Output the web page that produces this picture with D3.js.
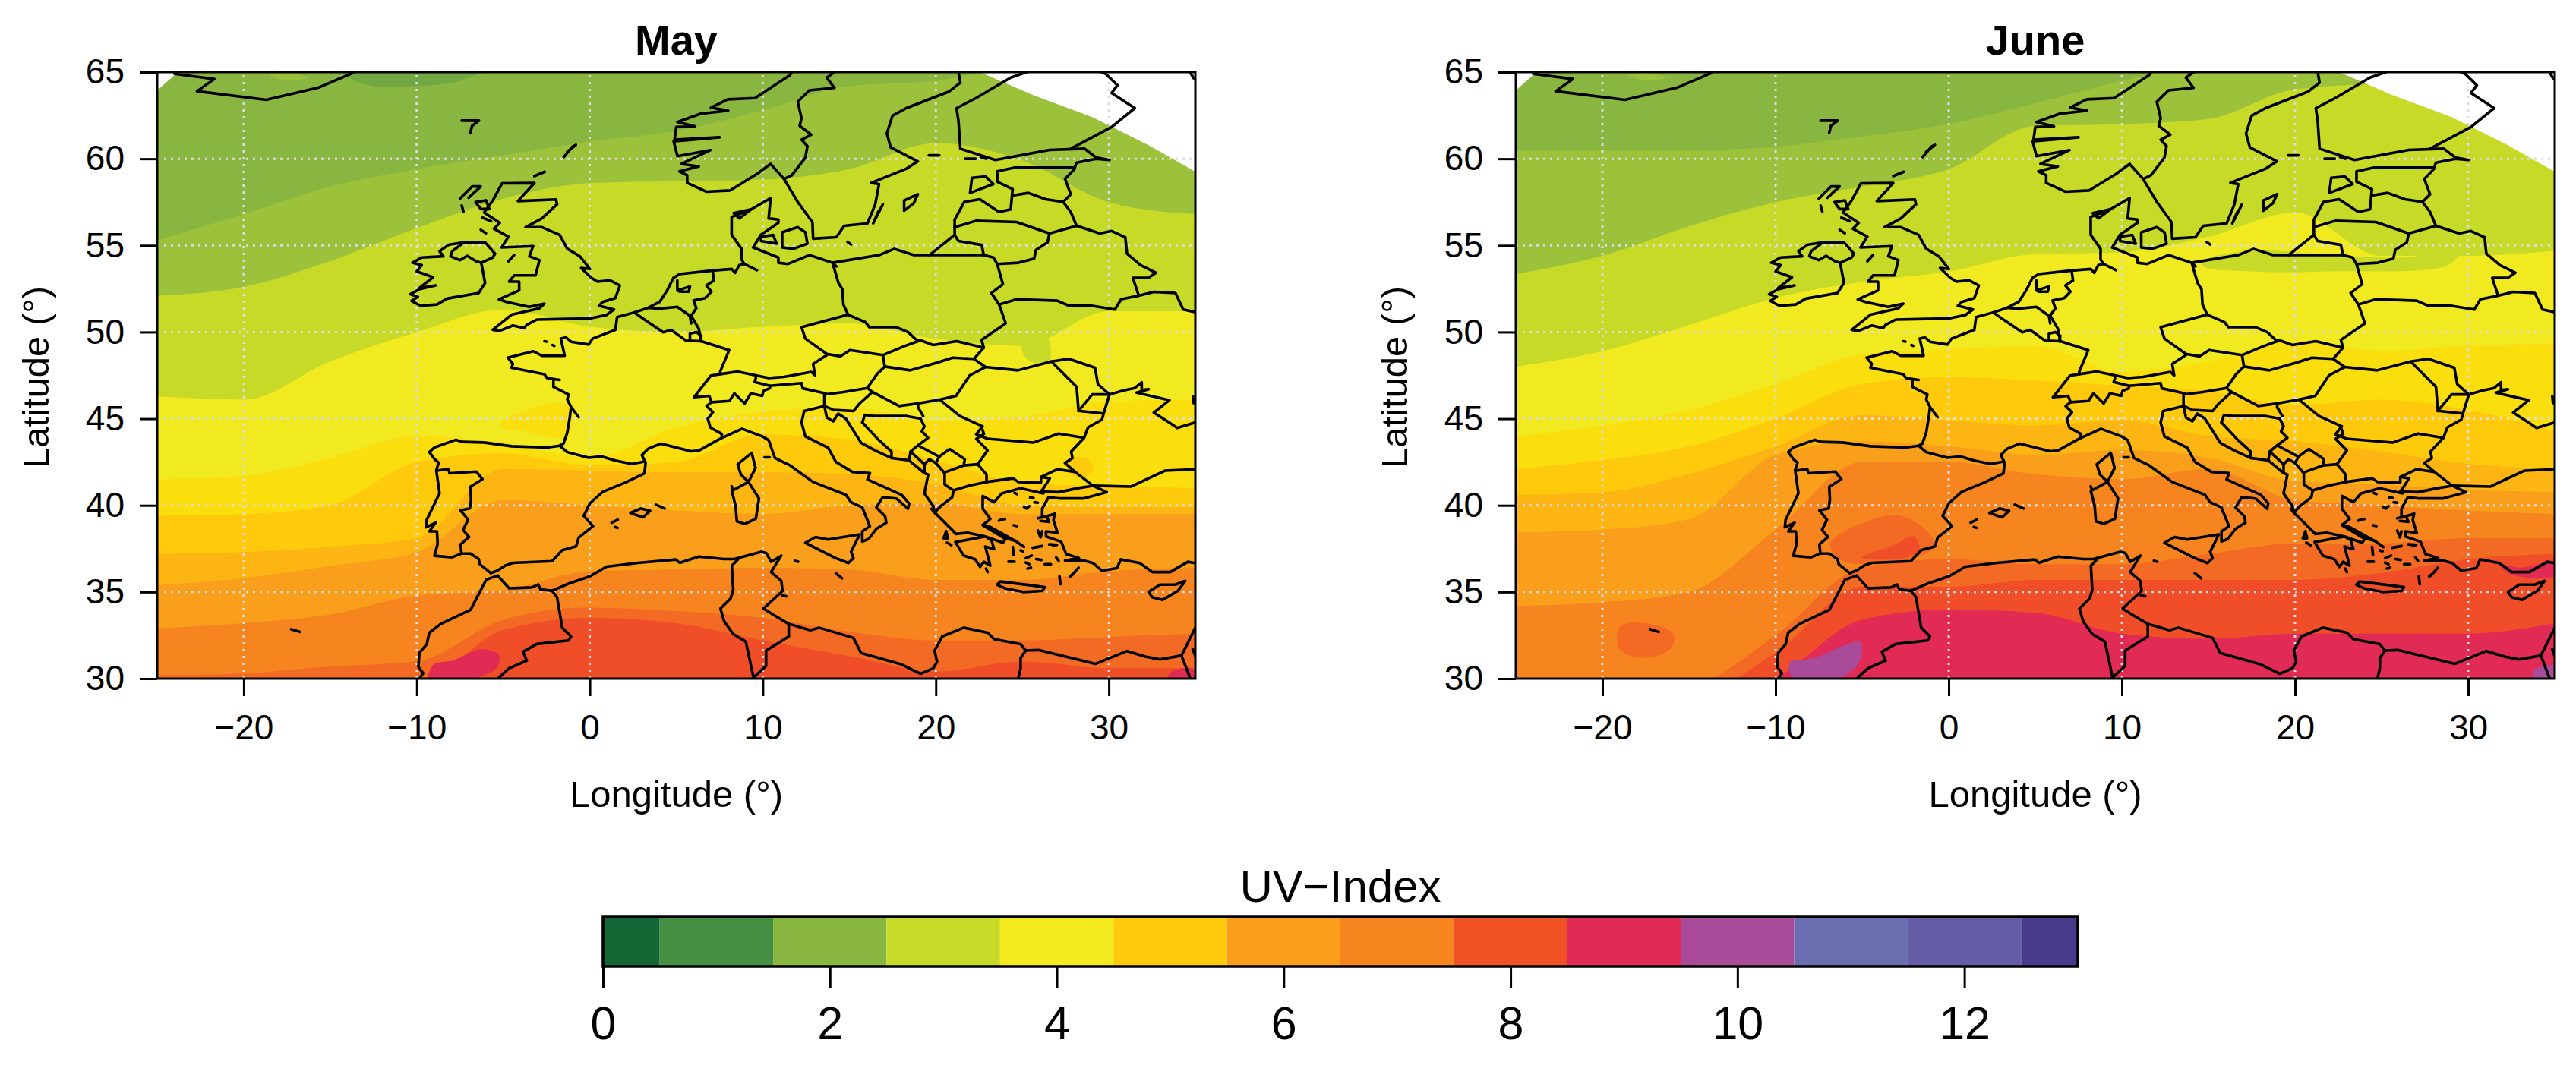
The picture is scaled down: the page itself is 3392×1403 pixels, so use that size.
<!DOCTYPE html>
<html>
<head>
<meta charset="utf-8">
<script src="https://cdn.jsdelivr.net/npm/d3@7"></script>
<style>
body { margin: 0; background: #fff; }
text { font-family: "Liberation Sans", Arial, sans-serif; fill: #000; }
.tick line { stroke: #000; stroke-width: 3; }
.axis text { font-size: 46px; }
.grid { stroke: #dcdcdc; stroke-width: 3; stroke-dasharray: 3 6; fill: none; }
.coast { fill: none; stroke: #000; stroke-width: 3.6; stroke-linejoin: round; stroke-linecap: round; }
</style>
</head>
<body>
<svg id="chart" width="3392" height="1403"></svg>
<script>
// colour bar
var barLevels = [0, 0.5, 1.5, 2.5, 3.5, 4.5, 5.5, 6.5, 7.5, 8.5, 9.5, 10.5, 11.5, 12.5, 13];
var barColors = ["#146635", "#458f45", "#89b640", "#c7da28", "#f4ea1d", "#ffca0b", "#fa9f1b", "#f6851f", "#f15125", "#e12a54", "#aa4b9a", "#6a6eb0", "#655ca6", "#483b8b"];
var barTicks = [0, 2, 4, 6, 8, 10, 12];

// map shades, low to high UV (half steps show up on the maps), last one is the dark green patch
var shades = ["#89b640", "#9cc13a", "#c7da28", "#f2ea20", "#fbde0e", "#ffc90c", "#fdb514", "#fa9f1b", "#f6851f", "#f36a25", "#f04e28", "#e12a54", "#aa4b9a", "#72a843"];

var lonTicks = [-20, -10, 0, 10, 20, 30];
var latTicks = [30, 35, 40, 45, 50, 55, 60, 65];
var isoLons = [-25, -20, -15, -10, -5, 0, 5, 10, 15, 20, 25, 30, 35];

// latitude of each shade boundary at isoLons
var mayIso = [
    [55.3, 56.8, 58.4, 59.4, 60.2, 61, 61.6, 62.8, 64.2, 64.5, 65.5, 66, 66],
    [52.1, 52.6, 54.1, 56, 57.7, 58.6, 58.7, 58.8, 59.4, 60.9, 59.9, 57.5, 56.8],
    [46.3, 46.1, 48.3, 50, 51.3, 50.3, 50, 50.3, 50.5, 49.6, 49.2, 51.2, 51.2],
    [41.5, 41.7, 42.75, 44, 43.6, 42.75, 44.5, 45.4, 45.65, 44.9, 45.1, 46, 46.1],
    [39.4, 39.5, 40, 42.5, 43, 42.3, 42.5, 44.1, 43.8, 42.6, 41.3, 41.1, 41],
    [37.2, 37.3, 37.6, 38.1, 42.1, 42, 41.9, 41.9, 41.8, 41.2, 40, 39.9, 39.9],
    [35.4, 35.8, 36.5, 37.3, 40.3, 40, 39.7, 39.5, 40, 40.1, 39.5, 39.5, 39.5],
    [32.9, 33.2, 33.7, 34.8, 35.1, 36.2, 36.3, 36.4, 36.3, 35.7, 35.7, 36.2, 36.4],
    [30.2, 30.3, 30.7, 31, 33.4, 34.1, 33.9, 33.5, 32.7, 32.2, 32.2, 32.4, 32.6],
    [29, 29, 29, 29.5, 32.8, 33.5, 33.2, 32.2, 31.3, 30.4, 31, 30.6, 30.6]
];
var juneIso = [
    [60.5, 60.5, 60.5, 60.7, 61.3, 62, 63.2, 64.5, 65.5, 66, 66, 66, 66],
    [53.35, 54.4, 56.1, 57.5, 58.4, 59.4, 61.9, 62, 62.3, 64, 64.3, 64, 63],
    [48, 48.9, 50.4, 51.97, 52.9, 53.5, 54.5, 54.6, 55.5, 56.9, 54.4, 54.4, 54.7],
    [44, 44.6, 45.5, 47, 48.7, 49, 49.2, 47.7, 48.3, 49.5, 48.9, 49.2, 49.35],
    [42.1, 42.6, 43.4, 45, 47, 47.4, 47.2, 46.9, 46.6, 45.8, 46.1, 45.5, 44.3],
    [40.6, 40.75, 41.8, 43.4, 45.2, 44.9, 44.6, 44.9, 44, 43.7, 43.1, 42.4, 42.1],
    [38.45, 38.6, 39.2, 42.9, 43.7, 43.4, 42.9, 43.2, 42.75, 41.4, 41.2, 40.9, 40.75],
    [34.2, 34.4, 35, 38.6, 42.5, 42.5, 41.8, 41.5, 42.1, 40.3, 40, 39.7, 39.5],
    [29, 29, 29.5, 32.5, 36.4, 36.9, 36.6, 36.6, 37.2, 37.8, 37.8, 38.1, 38.1],
    [29, 29, 29, 31.5, 35.3, 35.3, 35.7, 35.7, 35.7, 35.7, 36.1, 36.9, 37.2],
    [28, 28, 28, 30, 33.4, 34, 33.8, 32.6, 32.3, 32.6, 32.6, 32.6, 33.2]
];

// isolated patches: [shade index, outline]
var mayPatches = [
    [13, [[-14.5, 65.2], [-13, 64.3], [-10, 64.2], [-7.5, 64.5], [-6, 65.2]]],
    [1, [[-18.5, 64.85], [-17.3, 64.95], [-16.3, 64.7], [-17.4, 64.5]]],
    [4, [[-5.1, 44.8], [-3.9, 45.4], [-2.2, 45.9], [-1.2, 45.7], [-1.2, 44], [-2.2, 43.9], [-3.9, 44.3], [-5, 44.4]]],
    [11, [[-9.05, 30.8], [-7.9, 31.05], [-6.3, 31.7], [-5.25, 31.35], [-5.4, 30.6], [-6.4, 30.1], [-8, 29.8], [-9.3, 29.8]]],
    [11, [[33.5, 30.3], [34.8, 30.6], [35.4, 29.8], [33.5, 29.8]]],
    [5, [[27.6, 42.7], [28.7, 42.7], [29.1, 42.1], [28.5, 41.6], [27.8, 41.8]]],
    [2, [[25.6, 50], [26.5, 49.6], [26.5, 48.2], [25.2, 48.5], [25, 49.5]]]
];
var junePatches = [
    [1, [[-18.5, 64.85], [-17.3, 64.95], [-16.3, 64.7], [-17.4, 64.5]]],
    [1, [[27, 64], [28.5, 64.2], [29.5, 63.5], [28, 63.1], [26.8, 63.4]]],
    [2, [[14.7, 54.1], [17.4, 54.7], [21.9, 54.45], [26.4, 54.3], [29.5, 54.75], [28.9, 53.9], [21.9, 53.5], [17.4, 53.5], [14.7, 53.8]]],
    [9, [[-19, 33], [-17.5, 33.2], [-15.9, 32.6], [-16, 31.8], [-17.5, 31.2], [-19, 31.7]]],
    [9, [[-6.85, 37.8], [-4.66, 39.1], [-2.75, 39.4], [-1.14, 38.4], [-0.85, 37.6], [-2.2, 36.9], [-5.1, 36.6], [-6.3, 36.9]]],
    [10, [[-5, 37], [-3.2, 37.7], [-2, 38.2], [-1.7, 37.3], [-3, 36.9]]],
    [11, [[31.8, 36.6], [33, 36.4], [35.4, 36.8], [35.4, 36], [32.5, 36]]],
    [12, [[-9.2, 30.9], [-7.7, 31.2], [-6.1, 31.9], [-5.1, 32.1], [-5.2, 30.9], [-6.6, 29.9], [-8.9, 29.9]]],
    [12, [[33.8, 29.9], [33.8, 30.5], [35.3, 30.7], [35.3, 29.9]]]
];

// area outside the satellite view, left white
var swathGaps = [
    [[22.54, 65], [25.68, 63.65], [29.04, 62.41], [32.4, 60.73], [35, 59.25], [35.5, 59], [35.5, 65.5], [22.54, 65.5]],
    [[-25.5, 63.75], [-25, 63.95], [-23.8, 65], [-23.8, 65.5], [-25.5, 65.5]]
];

// coastlines and borders, lon/lat
var coastLines = [
    // Iceland
    [[-24, 64.9], [-21.7, 64.6], [-22.7, 63.9], [-18.7, 63.4], [-15.7, 64.1], [-13.7, 64.95]],
    // Ireland
    [[-8.46, 54.37], [-9.71, 54.3], [-10.25, 54], [-9.71, 53.86], [-10, 53.5], [-9.05, 53.16], [-9.85, 52.54], [-8.9, 52.69], [-9.85, 52.47], [-10.37, 52.18], [-9.93, 52.03], [-10.3, 51.8], [-9.78, 51.52], [-8.83, 51.59], [-8.25, 51.93], [-6.42, 52.25], [-6.05, 52.84], [-6.27, 54], [-5.61, 54.3], [-5.47, 54.52], [-6.05, 55.18], [-7.3, 55.18], [-8.17, 55.03], [-8.68, 54.66], [-8.46, 54.37]],
    [[-7.37, 55.1], [-7.95, 54.66], [-8.05, 54.37], [-7.51, 54.15], [-7.08, 54.4], [-6.56, 54.08], [-6.27, 54]],
    // Great Britain
    [[-5.07, 58.58], [-3.2, 58.6], [-4.15, 57.56], [-1.95, 57.65], [-1.89, 57.37], [-2.76, 56.56], [-3.71, 56.05], [-2.76, 56.05], [-1.74, 55.61], [-1.3, 54.81], [-0.57, 54.37], [0.01, 53.64], [-0.5, 53.7], [0.09, 53.13], [0.45, 52.91], [1.18, 52.98], [1.74, 52.69], [1.48, 51.96], [0.75, 51.74], [0.53, 51.52], [1.4, 51.3], [0.96, 50.98], [0.01, 50.79], [-1.3, 50.76], [-3.06, 50.72], [-3.64, 50.42], [-3.79, 50.23], [-4.44, 50.38], [-5.24, 50.06], [-5.6, 50.13], [-4.52, 51], [-2.91, 51.37], [-2.62, 51.64], [-3.5, 51.45], [-4.81, 51.74], [-5.25, 51.89], [-4.08, 52.4], [-4.08, 52.91], [-4.66, 52.91], [-4.37, 53.27], [-3.13, 53.27], [-2.91, 54.15], [-3.49, 54.37], [-3.27, 54.96], [-5.1, 54.88], [-4.7, 55.5], [-5.53, 55.96], [-5.2, 56.3], [-6.1, 56.9], [-5.6, 57.6], [-5.07, 58.58]],
    [[-7.5, 57.7], [-6.8, 58.4], [-6.3, 58.4], [-7, 57.75]],
    [[-6.6, 57.5], [-6, 57.6], [-5.8, 57.1], [-6.3, 57.1], [-6.6, 57.5]],
    [[-6.2, 56.6], [-5.7, 56.4]], [[-6.3, 55.9], [-6, 55.7]], [[-7.4, 57.3], [-7.3, 56.95]],
    [[-3.2, 59], [-2.6, 59.25]], [[-1.5, 60.1], [-1, 60.7], [-0.8, 60.8], [-1.3, 60.4]],
    [[-7.4, 62.2], [-6.4, 62.2], [-6.8, 61.9], [-6.9, 61.5]],
    [[-4.7, 54.08], [-4.37, 54.44]], [[-2.62, 49.47], [-2.5, 49.45]], [[-2.15, 49.25], [-2.05, 49.2]],
    [[-17.25, 32.85], [-16.75, 32.7]],
    // Iberia and France, Atlantic side
    [[-5.72, 36.09], [-6.35, 36.6], [-6.42, 36.9], [-6.89, 37.22], [-7.41, 37.22], [-7.95, 37], [-8.98, 37.09], [-8.79, 37.77], [-8.83, 38.5], [-9.27, 38.5], [-8.9, 39], [-9.46, 38.73], [-9.42, 39.17], [-8.68, 40.7], [-8.87, 42.02], [-8.73, 42.46], [-8.98, 42.68], [-9.27, 43.07], [-8.98, 43.34], [-7.73, 43.78], [-7.37, 43.66], [-6.13, 43.63], [-4.52, 43.41], [-2.47, 43.34], [-1.74, 43.44], [-1.52, 43.56], [-1.3, 44.2], [-1.15, 45.1], [-1.08, 45.67], [-0.64, 45.09], [-1.08, 45.67], [-1.3, 46.11], [-1.23, 46.4], [-2.1, 46.84], [-2.1, 47.28], [-1.74, 47.24], [-2.47, 47.35], [-2.62, 47.57], [-4.52, 47.94], [-4.44, 48.16], [-4.74, 48.52], [-3.27, 48.89], [-2.76, 48.63], [-1.45, 48.63], [-1.67, 49.62], [-1.37, 49.69], [-1.08, 49.44], [-0.06, 49.28], [0.16, 49.62], [1.48, 50.13], [1.58, 50.86], [2.57, 51.13], [3.38, 51.4], [4.04, 51.74], [4.47, 52.4], [4.84, 53.13], [5.2, 53.35], [7.1, 53.55], [8.2, 53.64], [8.4, 53.42], [8.64, 53.86], [8.93, 53.93], [9.66, 53.57], [8.93, 53.93], [8.77, 54.2], [8.77, 54.81], [8.2, 55.61], [8.2, 56.64], [9.33, 57.08], [10.45, 57.73], [10.34, 56.56], [10.9, 56.49], [10.9, 56.3], [9.89, 55.61], [9.44, 54.88], [10.9, 54.3], [10.9, 54], [11.46, 53.93], [12.69, 54.44], [14.03, 54], [14.25, 53.79], [14.03, 54], [16.72, 54.44], [17.6, 54.8], [18.73, 54.44], [19.63, 54.44], [21.09, 55.61], [21.09, 56.49], [21.65, 57.51], [22.54, 57.66], [23.66, 56.93], [24.33, 57.08], [24.44, 58.25], [23.55, 58.68], [23.55, 59.27], [24.56, 59.49], [28.03, 59.49], [28.14, 59.78], [29.26, 60], [30.04, 59.93], [29.26, 60.07], [28.6, 60.58], [26.57, 60.51], [23.44, 59.93], [21.42, 60.58], [21.31, 62.19], [21.2, 62.92], [22.32, 63.5], [24.33, 64.68], [25.23, 65]],
    // Scandinavia
    [[21.31, 65], [21.42, 64.39], [20.75, 63.87], [18.29, 62.92], [17.5, 62.49], [17.17, 61.46], [17.39, 60.66], [18.96, 59.85], [18.29, 59.42], [16.27, 58.61], [16.72, 58.54], [16.5, 57.37], [16.05, 56.27], [14.7, 56.13], [14.25, 55.47], [12.91, 55.39], [12.87, 56.34], [12.02, 57.51], [11.23, 58.83], [10.45, 59.7], [9.66, 59.12], [8.1, 58.17], [6.75, 58.1], [5.63, 58.61], [5.63, 59.05], [5.18, 59.27], [6.3, 59.56], [5.3, 59.7], [6.98, 60.5], [5.07, 60.15], [4.85, 61], [7.5, 61.24], [4.9, 61.1], [5, 61.83], [6.08, 61.87], [5.07, 62.12], [6.42, 62.6], [8, 62.78], [7, 62.95], [7.98, 63.43], [9.55, 63.5], [11.57, 64.82], [11.68, 65]],
    [[11.23, 58.83], [11.68, 59.05], [12.46, 60.07], [12.58, 60.73], [12.24, 61.1], [12.8, 61.39], [12.13, 61.9], [12.24, 62.34], [12.02, 63.29], [12.69, 63.95], [14.14, 64.09], [13.7, 64.68], [14.14, 65]],
    [[27.8, 60.58], [30.16, 61.83], [31.5, 62.92], [30.16, 63.8], [30.5, 64.24], [29.82, 64.9], [29.6, 65]],
    [[34.7, 65], [34.9, 64.65], [35, 64.6]],
    // Danish islands, Baltic islands
    [[11.12, 55.76], [12.02, 56.05], [12.46, 55.76], [12.58, 55.1], [11.79, 54.81], [11.12, 54.88], [11.12, 55.76]],
    [[9.9, 55.5], [10.6, 55.6], [10.8, 55.1], [9.9, 55.25], [9.9, 55.5]],
    [[8.32, 56.86], [9.33, 57.08], [8.65, 56.56], [8.32, 56.86]],
    [[18.17, 57.59], [18.96, 57.95], [18.73, 57.44], [18.17, 57], [18.17, 57.59]],
    [[16.94, 57.37], [16.38, 56.27], [16.7, 57]],
    [[22.09, 58.9], [22.88, 58.97], [23.33, 58.54], [21.98, 58.03], [22.09, 58.9]],
    [[14.9, 55.2], [15.1, 55.05]], [[19.6, 60.2], [20.2, 60.2]], [[21.7, 60], [22.3, 60]], [[22.6, 60.1], [22.9, 60]],
    // Low Countries, Germany, Alps
    [[5.06, 52.98], [5.06, 52.4], [5.79, 52.63], [5.72, 52.33], [5.2, 52.33], [5.06, 52.4]],
    [[3.38, 51.4], [4, 51.35], [5.06, 51.45], [5.79, 50.94], [5.86, 50.5]],
    [[7.1, 53.55], [7.18, 52.98], [6.74, 52.69], [7.03, 52.33], [6.67, 51.96], [6, 51.82], [6.16, 51.37], [5.86, 50.94], [6.3, 50.2], [6.45, 49.47]],
    [[2.57, 51.13], [3.16, 50.72], [4.25, 49.99], [4.7, 50.13], [5.57, 49.5], [6.45, 49.47]],
    [[5.79, 49.5], [5.79, 49.91], [6.16, 50], [6.45, 49.78], [6.38, 49.47]],
    [[6.45, 49.47], [8.06, 48.96], [7.54, 47.72], [7.54, 47.57], [8.54, 47.72], [10.34, 47.35], [11.23, 47.41], [12.8, 47.7], [13.02, 47.5], [12.91, 48.16], [13.7, 48.67]],
    [[7.54, 47.57], [7.01, 47.49], [6.02, 46.24], [6.9, 46.32], [7.04, 45.95], [8.07, 46.02], [8.36, 46.46], [8.95, 45.88], [9.31, 46.46], [9.97, 46.32], [10.04, 46.61], [10.41, 46.75], [10.41, 46.9], [9.53, 47.12], [9.6, 47.34]],
    [[7.04, 45.95], [6.75, 45.73], [7.12, 45.37], [6.82, 45], [6.97, 44.49], [7.63, 44.12], [7.63, 43.9]],
    [[10.41, 46.9], [12.24, 47.05], [12.31, 46.75], [13.63, 46.46]],
    // Mediterranean north shore
    [[-5.72, 36.09], [-5.32, 36.24], [-4.88, 36.53], [-4.44, 36.68], [-2.18, 36.78], [-1.59, 37.41], [-0.79, 37.63], [-0.64, 38.14], [0.19, 38.8], [-0.35, 39.39], [0.01, 40.12], [0.75, 40.78], [2.06, 41.32], [3.16, 41.84], [3.23, 42.46], [3.01, 42.9], [3.38, 43.27], [4.11, 43.56], [5.86, 43.12], [6.3, 43.16], [7.54, 43.85], [8.8, 44.42], [9.97, 43.98], [10.34, 43.76], [10.7, 42.73], [11.58, 42.3], [12.9, 41.35], [13.85, 40.98], [14.8, 40.61], [15.1, 40.18], [15.75, 39.88], [16.19, 38.79], [15.75, 38.5], [15.75, 37.91], [16.12, 38.06], [16.56, 38.64], [17.14, 39], [17.07, 39.37], [16.56, 39.88], [16.93, 40.47], [17.73, 40.39], [18.39, 39.81], [18.46, 40.1], [18.02, 40.61], [16.05, 41.49], [16.19, 41.86], [15.17, 41.93], [14.22, 42.51], [13.78, 43.32], [12.46, 43.98], [12.24, 44.78], [12.39, 45.44], [13.56, 45.73], [13.7, 45.07], [14.07, 44.85], [14.36, 45.29], [14.8, 45], [15.68, 43.61], [16.49, 43.17], [17.44, 42.73], [18.46, 42.59], [19.34, 41.86], [19.56, 41.78], [19.34, 40.69], [19.85, 39.96], [19.93, 39.59], [21.17, 38.35], [21.83, 38.42], [22.86, 38.2], [21.13, 37.88], [21.61, 37.1], [22.27, 36.89], [22.56, 36.45], [22.78, 36.74], [23.15, 36.52], [22.86, 37.62], [23.37, 37.47], [23.22, 37.98], [22.86, 38.2], [23.88, 37.84], [24.03, 38.06], [22.71, 38.86], [23.15, 39.22], [22.71, 39.81], [22.71, 40.54], [23.37, 40.18], [23.81, 40.69], [24.9, 40.98], [26.22, 40.69], [26.08, 40.8], [27.1, 40.76], [28.27, 41], [29.08, 41.13], [29.88, 40.76], [28.57, 40.4], [27.1, 40.4], [26.52, 40.47], [26.15, 39.81], [26.15, 39.3], [26.88, 39.52], [26.8, 39.15], [27.03, 38.42], [26.37, 38.5], [26.37, 38.2], [27.25, 37.9], [27.54, 37.18], [28.27, 36.96], [27.47, 36.81], [28.56, 36.81], [29.08, 36.67], [29.6, 36.23], [30.47, 36.37], [30.69, 36.88], [31.79, 36.67], [32.52, 36.15], [33.54, 36.15], [34.57, 36.74], [35, 36.67]],
    [[29.08, 41.13], [31.27, 41.08], [33.24, 42], [35, 42.08]],
    [[29.08, 41.13], [28.05, 41.93], [27.46, 42.44], [27.9, 42.73], [27.82, 43.1], [28.57, 43.9], [28.8, 44.5], [29.6, 44.94], [29.7, 45.3], [28.25, 45.45]],
    // Black Sea north, Crimea
    [[29.7, 45.3], [30.04, 46.4], [30.82, 46.62], [31.5, 46.77], [31.9, 47.1], [31.9, 46.65], [32.3, 46.7], [31.6, 46.5], [33.5, 46.07], [32.6, 45.35], [33.5, 44.77], [33.95, 44.47], [34.97, 44.77]],
    [[34.86, 46.3], [34.9, 45.9], [35, 46]],
    // Iberian borders
    [[-1.74, 43.44], [-1.3, 43.07], [-0.06, 42.75], [0.67, 42.82], [1.48, 42.58], [2.43, 42.39], [3.16, 42.53]],
    [[-8.83, 42], [-8.17, 42.09], [-8.1, 41.85], [-6.56, 41.95], [-6.2, 41.51], [-6.9, 41.07], [-6.86, 40.34], [-6.93, 39.82], [-7.47, 39.71], [-7.03, 39.17], [-7.32, 38.58], [-6.97, 38.17], [-7.47, 37.75], [-7.41, 37.22]],
    // Central and eastern Europe borders
    [[14.03, 54], [14.37, 52.84], [14.6, 52.47], [14.66, 51.59], [14.93, 51], [12.24, 50.28], [12.46, 49.62], [13.7, 48.74], [14.48, 48.6], [15.04, 48.96], [16.94, 48.67], [17.05, 48.01], [16.6, 47.57], [16.04, 46.77], [14.66, 46.54], [13.56, 46.39], [13.56, 45.73]],
    [[14.93, 51], [15.93, 50.57], [16.16, 50.28], [17.73, 50.28], [18.4, 49.99], [18.96, 49.47], [19.04, 49.55], [19.85, 49.25], [21.2, 49.47], [22.77, 49.1], [22.2, 48.45], [20.97, 48.52], [20.08, 48.23], [18.51, 47.79], [17.05, 48.01]],
    [[18.96, 49.47], [18.17, 49.18], [16.94, 48.67]],
    [[19.63, 54.44], [22.77, 54.44], [23.33, 54.3], [23.55, 53.93], [23.88, 52.76], [23.21, 52.25], [23.66, 51.59], [24.04, 50.5], [22.65, 49.55], [22.77, 49.1]],
    [[21.09, 55.61], [21.31, 55.25], [22.65, 55.03], [22.77, 54.44]],
    [[21.09, 56.05], [22.32, 56.42], [24.67, 56.35], [26.57, 55.69], [28.14, 56.13], [27.8, 56.93], [27.36, 57.51], [26.35, 57.66], [25.35, 58.03], [24.44, 57.88]],
    [[28.03, 59.42], [27.47, 58.83], [27.8, 57.95], [27.36, 57.51]],
    [[26.57, 55.69], [26.46, 55.18], [25.79, 54.74], [25.68, 54.23], [24.78, 54], [23.55, 53.93]],
    [[28.14, 56.13], [29.48, 55.69], [30.16, 55.83], [30.95, 55.47], [31.05, 54.52], [31.84, 53.86], [32.73, 53.42], [32.29, 53.13], [31.39, 53.13], [31.73, 52.1], [32.6, 52.32], [33.85, 52.25], [34.3, 51.3], [35, 51.15]],
    [[23.66, 51.59], [24.67, 51.89], [27.02, 51.81], [27.7, 51.52], [29, 51.52], [30.35, 51.3], [30.71, 51.89], [31.73, 52.1]],
    [[22.2, 48.45], [22.87, 47.98], [24.74, 47.79], [26.68, 48.3], [27.69, 48.45], [29.2, 47.94], [29.37, 46.99], [30.04, 46.4], [29.04, 46.4], [28.25, 45.45]],
    [[26.68, 48.3], [28.14, 46.84], [28.25, 45.45]],
    [[22.87, 47.98], [21.96, 47.5], [21.17, 46.32], [20.22, 46.1], [21.39, 45.15], [22.7, 44.56], [22.34, 44.1], [23, 43.84], [25.63, 43.62], [27.1, 44.14], [28.57, 43.9]],
    [[16.04, 46.77], [16.34, 46.54], [17.88, 45.73], [18.97, 45.88], [20.22, 46.1]],
    [[13.56, 45.73], [14.07, 45.51], [15.24, 45.44], [15.6, 45.88], [16.34, 46.54]],
    [[15.75, 44.78], [15.9, 45.22], [16.41, 45.15], [18.32, 45.15], [19.12, 45], [19.34, 44.56], [19.19, 44.27], [19.56, 43.9], [18.97, 43.46], [18.54, 43.1], [18.46, 42.59]],
    [[15.75, 44.78], [16.71, 43.76], [17.44, 43.1], [17.44, 42.73]],
    [[18.97, 45.88], [18.97, 45.66], [19.27, 45.15]],
    [[18.54, 43.1], [19.34, 42.37], [19.63, 42.66], [20, 42.44], [20.51, 41.86], [20.51, 41.2], [21.02, 40.86], [20.95, 40.47], [20.29, 39.96], [19.93, 39.59]],
    [[19.34, 42.37], [19.34, 41.86]],
    [[18.97, 43.46], [20.2, 42.81], [20, 42.44]],
    [[20.2, 42.81], [20.8, 43.25], [21.68, 42.66], [21.61, 42.3], [20.59, 41.93]],
    [[21.61, 42.3], [22.42, 42.37], [22.93, 41.78], [22.93, 41.35]],
    [[22.42, 42.37], [22.99, 43.17], [22.34, 43.83], [22.78, 44.12], [22.63, 44.56]],
    [[21.02, 40.86], [21.98, 41.15], [22.93, 41.35], [24.47, 41.56], [24.76, 41.35], [26.08, 41.3], [26.08, 41.64], [27.03, 42.08], [28.05, 41.93]],
    [[26.08, 41.64], [26.59, 41.56], [26.22, 40.98], [26.08, 40.8]],
    // Med islands
    [[9.36, 43.03], [9.58, 42.15], [9.17, 41.35], [8.73, 41.78], [8.55, 42.37], [9.36, 43.03]],
    [[9.17, 41.35], [8.21, 40.83], [8.43, 39.96], [8.5, 39.08], [8.96, 38.93], [9.6, 39.23], [9.78, 40.4], [9.17, 41.35]],
    [[12.46, 37.84], [13.05, 38.17], [13.78, 38.03], [15.6, 38.32], [15.1, 37.32], [15.24, 36.96], [14.95, 36.67], [14.2, 36.96], [12.46, 37.84]],
    [[2.35, 39.56], [2.94, 39.82], [3.49, 39.68], [3.08, 39.31], [2.35, 39.56]],
    [[3.82, 40.04], [4.33, 39.82]], [[1.26, 39], [1.62, 39.17]], [[1.45, 38.75], [1.6, 38.7]],
    [[10.1, 42.77], [10.4, 42.77]], [[8.2, 41.1], [8.25, 40.95]], [[14.22, 36.08], [14.58, 35.79]], [[11.85, 36.8], [12.05, 36.75]], [[11.1, 34.8], [11.35, 34.75]],
    [[32.3, 35], [32.95, 35.42], [33.84, 35.42], [34.42, 35.64], [33.99, 35.06], [33.11, 34.55], [32.52, 34.69], [32.3, 35]],
    [[23.54, 35.42], [23.73, 35.6], [25.78, 35.35], [26.3, 35.28], [26.15, 35.06], [25.05, 35], [24.03, 35.2], [23.54, 35.42]],
    // Aegean and Ionian islands
    [[22.71, 38.86], [23.15, 38.75], [24.6, 37.95], [24.05, 38.1], [22.71, 38.86]],
    [[24.55, 40.72], [24.7, 40.65]], [[25.45, 40.45], [25.65, 40.42]], [[25.7, 40.18], [25.9, 40.15]], [[25.1, 39.9], [25.25, 39.82], [25.4, 39.95]],
    [[23.65, 39.12], [23.85, 39.2], [24, 39.2]], [[24.5, 38.85], [24.7, 38.8]],
    [[20.6, 38.5], [20.45, 38.1], [20.7, 38.1], [20.6, 38.5]], [[20.65, 37.85], [20.9, 37.7]], [[22.9, 36.35], [23, 36.15]], [[19.75, 39.8], [20.05, 39.45]],
    [[25.9, 39.25], [26.4, 39.38], [26.55, 39.05], [26.05, 39.1]], [[25.9, 38.55], [26.05, 38.15], [26.15, 38.5]], [[26.55, 37.75], [27, 37.72], [26.8, 37.65]], [[25.6, 37.55], [26.15, 37.65]],
    [[24.6, 37.95], [25.1, 37.6]], [[24.45, 37.6], [24.5, 37.15]], [[24.9, 37.4], [25.05, 37.35]], [[25.2, 36.95], [25.55, 37.1]], [[24.2, 36.75], [24.55, 36.75]], [[25.2, 36.7], [25.4, 36.6]], [[25.5, 36.4], [25.3, 36.35]], [[25.8, 36.9], [26.1, 36.85]], [[26.3, 36.6], [26.65, 36.6]], [[26.95, 37], [27.1, 36.8]],
    [[28.05, 36.15], [27.75, 35.9], [27.85, 35.95], [28.25, 36.4]], [[27.15, 35.9], [27.2, 35.45]]
];

// North Africa kept apart, it is long
var africaLines = [
    [[-5.32, 35.94], [-5.98, 35.72], [-6.89, 33.97], [-8.61, 33.16], [-9.27, 32.65], [-9.42, 31.99], [-9.85, 31.48], [-9.9, 30.67], [-9.63, 30.31], [-9.85, 30]],
    [[-5.32, 35.94], [-4.66, 35.21], [-3.35, 35.26], [-2.98, 35.43], [-2.84, 35.14], [-2.18, 35.07], [-1.15, 35.51], [0.01, 35.9], [0.97, 36.46], [2.79, 36.68], [4.98, 36.87], [5.2, 36.68], [6.3, 37.04], [7.76, 36.9], [8.35, 36.9], [9.9, 37.32], [10.2, 37.25], [10.48, 36.74], [11.07, 37.1], [10.48, 36.15], [11.07, 35.64], [11.14, 35.06], [10.04, 34.04], [10.63, 33.67], [11.5, 33.16], [12.75, 32.79], [13.26, 32.94], [15.24, 32.35], [15.68, 31.48], [18.02, 30.82], [19.12, 30.28], [19.85, 30.6], [20.07, 30.96], [19.93, 31.62], [20.37, 32.43], [21.61, 32.94], [23, 32.65], [23.37, 32.28], [24.9, 31.99], [25.2, 31.62], [25.93, 31.65], [29.22, 30.85], [30.03, 31.18], [31.05, 31.59], [32.15, 31.26], [32.95, 31.11], [34.2, 31.33], [34.78, 32.5], [35, 32.94]],
    [[-2.18, 35.07], [-1.89, 34.7], [-1.59, 32.94], [-1.08, 32.43], [-1.23, 32.2], [-3.06, 32], [-3.86, 31.55], [-3.64, 31.04], [-4.66, 30.6], [-5.32, 30]],
    [[8.58, 36.89], [8.21, 36.52], [8.29, 35.13], [8.14, 34.62], [7.55, 34.04], [7.77, 33.3], [8.29, 32.57], [9.02, 32.13], [9.46, 30.09], [9.4, 30]],
    [[11.5, 33.16], [11.5, 32.43], [10.19, 31.62], [10.19, 30.74], [9.4, 30]],
    [[25.2, 31.62], [24.9, 31.18], [24.9, 30.6], [24.76, 30]],
    [[34.2, 31.33], [34.71, 30]],
    [[34.85, 31.7], [35, 31.3]]
];

var svg = d3.select("#chart");
var panelY = [894, 95];

function drawMap(title, xRange, iso, patches) {
    var x = d3.scaleLinear().domain([-25, 35]).range(xRange);
    var y = d3.scaleLinear().domain([30, 65]).range(panelY);
    var clipId = "clip-" + title;

    svg.append("clipPath").attr("id", clipId)
        .append("rect")
        .attr("x", xRange[0]).attr("y", panelY[1])
        .attr("width", xRange[1] - xRange[0]).attr("height", panelY[0] - panelY[1]);

    var map = svg.append("g").attr("clip-path", "url(#" + clipId + ")");

    map.append("rect")
        .attr("x", xRange[0]).attr("y", panelY[1])
        .attr("width", xRange[1] - xRange[0]).attr("height", panelY[0] - panelY[1])
        .attr("fill", shades[0]);

    var band = d3.area()
        .x(d => x(d[0]))
        .y0(y(25))
        .y1(d => y(d[1]))
        .curve(d3.curveMonotoneX);

    iso.forEach((lats, i) => {
        map.append("path")
            .datum(lats.map((v, j) => [isoLons[j], v]))
            .attr("fill", shades[i + 1])
            .attr("d", band);
    });

    var blob = d3.line().x(d => x(d[0])).y(d => y(d[1])).curve(d3.curveCatmullRomClosed);
    patches.forEach(p => {
        map.append("path").attr("fill", shades[p[0]]).attr("d", blob(p[1]));
    });

    var poly = d3.line().x(d => x(d[0])).y(d => y(d[1]));
    swathGaps.forEach(g => {
        map.append("path").attr("fill", "#fff").attr("d", poly(g) + "Z");
    });

    lonTicks.forEach(v => {
        map.append("line").attr("class", "grid")
            .attr("x1", x(v)).attr("x2", x(v)).attr("y1", panelY[0]).attr("y2", panelY[1]);
    });
    latTicks.slice(1, -1).forEach(v => {
        map.append("line").attr("class", "grid")
            .attr("x1", xRange[0]).attr("x2", xRange[1]).attr("y1", y(v)).attr("y2", y(v));
    });

    coastLines.concat(africaLines).forEach(l => {
        map.append("path").attr("class", "coast").attr("d", poly(l));
    });

    // frame
    svg.append("rect")
        .attr("x", xRange[0]).attr("y", panelY[1])
        .attr("width", xRange[1] - xRange[0]).attr("height", panelY[0] - panelY[1])
        .attr("fill", "none").attr("stroke", "#000").attr("stroke-width", 3);

    var xAxis = svg.append("g").attr("class", "axis")
        .attr("transform", "translate(0," + panelY[0] + ")")
        .call(d3.axisBottom(x).tickValues(lonTicks).tickSize(23).tickPadding(24));
    xAxis.select(".domain").remove();

    var yAxis = svg.append("g").attr("class", "axis")
        .attr("transform", "translate(" + xRange[0] + ",0)")
        .call(d3.axisLeft(y).tickValues(latTicks).tickSize(23).tickPadding(20));
    yAxis.select(".domain").remove();

    var mid = (xRange[0] + xRange[1]) / 2;
    svg.append("text").attr("x", mid).attr("y", 72)
        .attr("text-anchor", "middle").attr("font-size", 56).attr("font-weight", "bold")
        .text(title);
    svg.append("text").attr("x", mid).attr("y", 1063)
        .attr("text-anchor", "middle").attr("font-size", 49)
        .text("Longitude (°)");
    svg.append("text")
        .attr("transform", "translate(" + (xRange[0] - 143) + ",497) rotate(-90)")
        .attr("text-anchor", "middle").attr("font-size", 49)
        .text("Latitude (°)");
}

function drawBar() {
    var x = d3.scaleLinear().domain([0, 13]).range([794, 2736]);
    var top = 1208, bottom = 1273;

    svg.append("g").selectAll("rect")
        .data(barColors)
        .enter()
        .append("rect")
        .attr("x", (d, i) => x(barLevels[i]))
        .attr("width", (d, i) => x(barLevels[i + 1]) - x(barLevels[i]))
        .attr("y", top).attr("height", bottom - top)
        .attr("fill", d => d);

    svg.append("rect")
        .attr("x", x(0)).attr("y", top)
        .attr("width", x(13) - x(0)).attr("height", bottom - top)
        .attr("fill", "none").attr("stroke", "#000").attr("stroke-width", 3.5);

    var axis = svg.append("g")
        .attr("transform", "translate(0," + bottom + ")")
        .call(d3.axisBottom(x).tickValues(barTicks).tickSize(29).tickPadding(24));
    axis.select(".domain").remove();
    axis.selectAll("text").style("font-size", "61px");

    svg.append("text").attr("x", 1765).attr("y", 1188)
        .attr("text-anchor", "middle").attr("font-size", 60)
        .text("UV\u2212Index");
}

drawMap("May", [207, 1574], mayIso, mayPatches);
drawMap("June", [1996, 3364], juneIso, junePatches);
drawBar();
</script>
</body>
</html>
